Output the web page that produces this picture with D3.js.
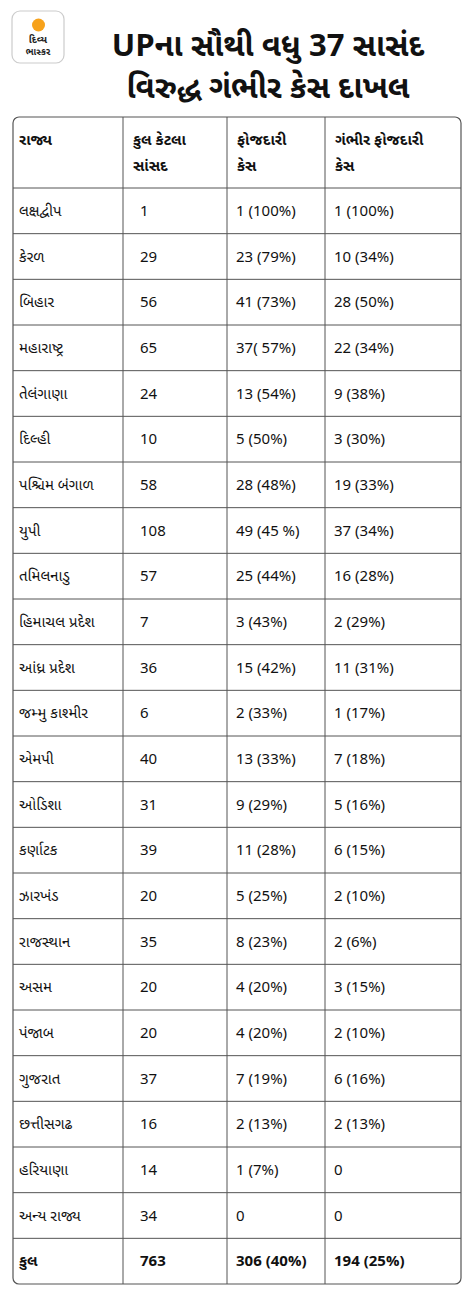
<!DOCTYPE html>
<html><head><meta charset="utf-8">
<script src="https://cdn.jsdelivr.net/npm/d3@7"></script>
<style>body{margin:0;background:#fff}svg{display:block}</style>
</head><body><svg id="c" width="474" height="1298"></svg>
<script>
const titleLines = ["UPના સૌથી વધુ 37 સાસંદ", "વિરુદ્ધ ગંભીર કેસ દાખલ"];
const headers = [["રાજ્ય"], ["કુલ કેટલા", "સાંસદ"], ["ફોજદારી", "કેસ"], ["ગંભીર ફોજદારી", "કેસ"]];
const states = ["લક્ષદ્વીપ","કેરળ","બિહાર","મહારાષ્ટ્ર","તેલંગાણા","દિલ્હી","પશ્ચિમ બંગાળ","યુપી","તમિલનાડુ","હિમાચલ પ્રદેશ","આંધ્ર પ્રદેશ","જમ્મુ કાશ્મીર","એમપી","ઓડિશા","કર્ણાટક","ઝારખંડ","રાજસ્થાન","અસમ","પંજાબ","ગુજરાત","છત્તીસગઢ","હરિયાણા","અન્ય રાજ્ય"];
const totalMPs = ["1","29","56","65","24","10","58","108","57","7","36","6","40","31","39","20","35","20","20","37","16","14","34"];
const criminal = ["1 (100%)","23 (79%)","41 (73%)","37( 57%)","13 (54%)","5 (50%)","28 (48%)","49 (45 %)","25 (44%)","3 (43%)","15 (42%)","2 (33%)","13 (33%)","9 (29%)","11 (28%)","5 (25%)","8 (23%)","4 (20%)","4 (20%)","7 (19%)","2 (13%)","1 (7%)","0"];
const serious = ["1 (100%)","10 (34%)","28 (50%)","22 (34%)","9 (38%)","3 (30%)","19 (33%)","37 (34%)","16 (28%)","2 (29%)","11 (31%)","1 (17%)","7 (18%)","5 (16%)","6 (15%)","2 (10%)","2 (6%)","3 (15%)","2 (10%)","6 (16%)","2 (13%)","0","0"];
const totalRow = ["કુલ","763","306 (40%)","194 (25%)"];

(function(){
const svg = d3.select("#c");
const font = "'Noto Sans Gujarati','Noto Sans','Lato',sans-serif";
const g = svg.append("g");
g.append("rect").attr("x",12).attr("y",11).attr("width",52).attr("height",52).attr("rx",8).attr("fill","#fff").attr("stroke","#ccc").attr("stroke-width",1.2);
g.append("circle").attr("cx",38.5).attr("cy",25).attr("r",6.5).attr("fill","#f7a21b");
g.append("text").attr("x",38).attr("y",43).attr("text-anchor","middle").attr("font-family",font).attr("font-weight",700).attr("font-size",10).attr("fill","#222").text("દિવ્ય");
g.append("text").attr("x",38).attr("y",55).attr("text-anchor","middle").attr("font-family",font).attr("font-weight",700).attr("font-size",9).attr("fill","#222").text("ભાસ્કર");
svg.selectAll(".t").data(titleLines).join("text").attr("x",268).attr("y",(d,i)=>56+i*42)
  .attr("text-anchor","middle").attr("font-family",font).attr("font-weight",700).attr("font-size",31).attr("fill","#111").text(d=>d);

const left=13,right=461,tableTop=117,headH=71,bottom=1284;
const colEdges=[left,123,227,325,right];
const rows = states.map((s,i)=>[s,totalMPs[i],criminal[i],serious[i]]);
const y = d3.scaleBand().domain(d3.range(rows.length+1)).range([tableTop+headH,bottom]);
svg.append("rect").attr("x",left).attr("y",tableTop).attr("width",right-left).attr("height",bottom-tableTop).attr("rx",6).attr("fill","none").attr("stroke","#555").attr("stroke-width",1.2);
svg.selectAll(".v").data(colEdges.slice(1,-1)).join("line").attr("x1",d=>d).attr("x2",d=>d).attr("y1",tableTop).attr("y2",bottom).attr("stroke","#555");
svg.selectAll(".h").data(d3.range(rows.length+1)).join("line").attr("x1",left).attr("x2",right).attr("y1",d=>y(d)).attr("y2",d=>y(d)).attr("stroke","#555");
headers.forEach((h,c)=>h.forEach((ln,k)=>svg.append("text").attr("x",colEdges[c]+(c===0?6:10)).attr("y",tableTop+28+k*26)
  .attr("font-family",font).attr("font-weight",700).attr("font-size",15).attr("fill","#111").text(ln)));
rows.concat([totalRow]).forEach((r,i)=>r.forEach((v,c)=>svg.append("text").attr("x",colEdges[c]+(c===0?6:c===1?17:9)).attr("y",y(i)+y.bandwidth()/2+5)
  .attr("font-family",font).attr("font-weight",i===rows.length?700:400).attr("font-size",15).attr("fill","#111").text(v)));
})();
</script></body></html>
